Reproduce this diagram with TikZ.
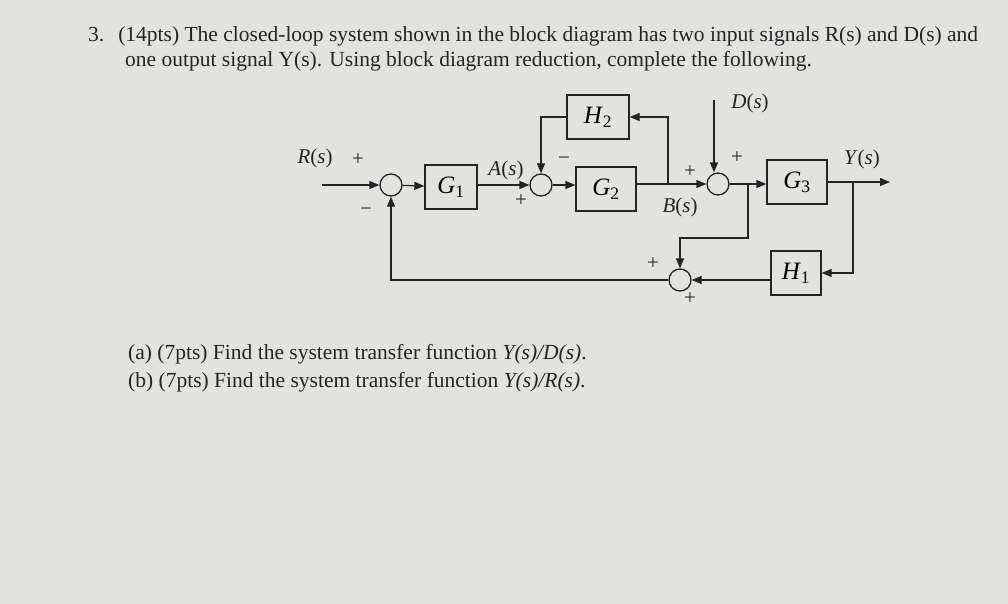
\documentclass[tikz,border=0pt]{standalone}
\usepackage{fontspec}
\setmainfont{Liberation Serif}
\usetikzlibrary{arrows.meta}
\definecolor{paper}{RGB}{226,226,223}
\definecolor{ink}{RGB}{35,35,40}
\newcommand{\iv}[1]{\textit{#1}}
\begin{document}
\begin{tikzpicture}[x=1pt,y=-1pt,
  blk/.style={draw=ink,line width=1.3pt,minimum width=#1,minimum height=44pt,inner sep=0pt,font=\fontsize{25}{25}\selectfont},
  blk/.default=56pt,
  sumn/.style={draw=ink,line width=1.3pt,circle,minimum size=22pt,inner sep=0pt},
  sig/.style={draw=ink,line width=1.3pt,-{Triangle[length=10pt,width=8pt]}},
  lab/.style={font=\fontsize{21}{21}\selectfont,text=ink},
  txt/.style={font=\fontsize{21.5}{21.5}\selectfont,text=ink,anchor=west,inner sep=0pt}]
\fill[paper] (0,0) rectangle (1008,604);
\useasboundingbox (0,0) rectangle (1008,604);
\node[txt] (t1) at (88,36) {3.\hspace{14pt}(14pts) The closed-loop system shown in the block diagram has two input signals R(s) and D(s) and};
\node[txt] (t2) at (125,61) {one output signal Y(s). Using block diagram reduction, complete the following.};
\node[txt] (qa) at (128,354) {(a) (7pts) Find the system transfer function \iv{Y(s)/D(s)}.};
\node[txt] (qb) at (128,382) {(b) (7pts) Find the system transfer function \iv{Y(s)/R(s)}.};
% blocks
\node[sumn] (s1) at (391,185) {};
\node[blk=52pt] (g1) at (451,187) {\iv{G}\textsubscript{1}};
\node[sumn] (s2) at (541,185) {};
\node[blk=60pt] (g2) at (606,189) {\iv{G}\textsubscript{2}};
\node[blk=62pt] (h2) at (598,117) {\iv{H}\textsubscript{2}};
\node[sumn] (s3) at (718,184) {};
\node[blk=60pt] (g3) at (797,182) {\iv{G}\textsubscript{3}};
\node[blk=50pt] (h1) at (796,273) {\iv{H}\textsubscript{1}};
\node[sumn] (s4) at (680,280) {};
\coordinate (rin) at (322,185);
\coordinate (din) at (714,100);
\coordinate (yout) at (890,182);
\coordinate (tb) at (668,185);
\coordinate (ty) at (853,182);
\coordinate (tc) at (748,184);
% signals
\draw[sig] (rin) -- (s1);
\draw[sig] (s1) -- (g1);
\draw[sig] (g1.east|-s2) -- (s2);
\draw[sig] (s2) -- (g2.west|-s2);
\draw[sig] (g2.east|-s3) -- (s3);
\draw[sig] (s3) -- (g3.west|-s3);
\draw[sig] (g3) -- (yout);
\draw[sig] (tb) |- (h2);
\draw[sig] (h2) -| (s2);
\draw[sig] (din) -- (din|-s3.north);
\draw[sig] (ty) |- (h1);
\draw[sig] (h1.west|-s4) -- (s4);
\draw[sig] (tc) |- (680,238) -- (s4);
\draw[sig] (s4.west) -| (s1);
% labels
\node[lab] (lr) at (315,158) {\iv{R}(\iv{s})};
\node[lab] (lrp) at (358,160) {+};
\node[lab] (lrm) at (366,212) {\textminus};
\node[lab] (la) at (506,170) {\iv{A}(\iv{s})};
\node[lab] (lap) at (521,201) {+};
\node[lab] (lam) at (564,161) {\textminus};
\node[lab] (lbp) at (690,172) {+};
\node[lab] (ldp) at (737,158) {+};
\node[lab] (lb) at (680,207) {\iv{B}(\iv{s})};
\node[lab] (ld) at (750,103) {\iv{D}(\iv{s})};
\node[lab] (ly) at (862,159) {\iv{Y}(\iv{s})};
\node[lab] (l4p) at (653,264) {+};
\node[lab] (l4q) at (690,299) {+};
\end{tikzpicture}
\end{document}
